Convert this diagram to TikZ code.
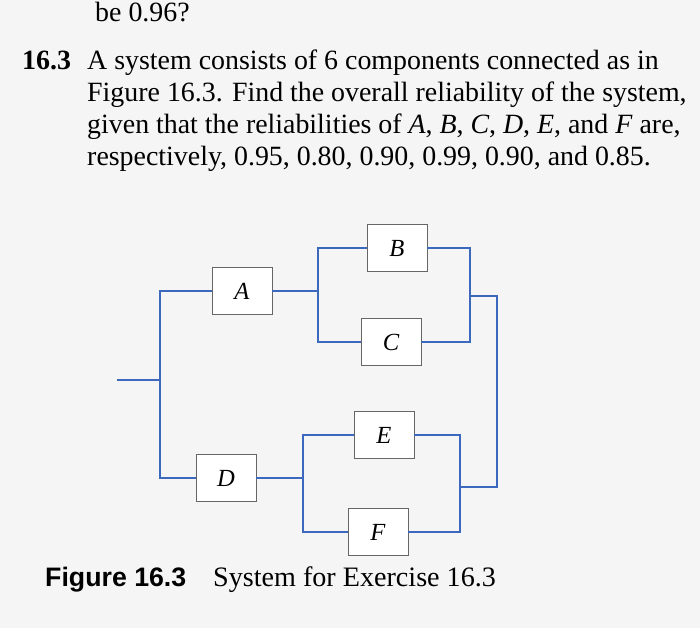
\documentclass[tikz,border=0pt]{standalone}
\usepackage{fontspec}
\setmainfont{Liberation Serif}
\newfontfamily\figsans{Liberation Sans}
\definecolor{wireblue}{RGB}{60,105,190}
\begin{document}
\begin{tikzpicture}[x=0.03cm,y=-0.03cm,
  comp/.style={draw=black!60,fill=white,line width=0.8pt,minimum width=1.8cm,minimum height=1.4cm,font=\fontsize{21}{24}\selectfont\itshape},
  wire/.style={draw=wireblue,line width=2pt},
  txt/.style={anchor=base west,inner sep=0,font=\fontsize{23.8}{27}\selectfont}]
\useasboundingbox[fill=black!4] (0,0) rectangle (700,628);
\node[txt] (t0) at (95,22) {be 0.96?};
\node[txt,font=\fontsize{23.8}{27}\selectfont\bfseries] (t1) at (22,70) {16.3};
\node[txt] (t2) at (87,70) {A system consists of 6 components connected as in};
\node[txt] (t3) at (87,102) {Figure 16.3. Find the overall reliability of the system,};
\node[txt] (t4) at (87,134) {given that the reliabilities of \textit{A}, \textit{B}, \textit{C}, \textit{D}, \textit{E}, and \textit{F} are,};
\node[txt] (t5) at (87,166) {respectively, 0.95, 0.80, 0.90, 0.99, 0.90, and 0.85.};
\node[comp] (A) at (242,291) {A};
\node[comp] (B) at (397,248) {B};
\node[comp] (C) at (391,342) {C};
\node[comp] (D) at (226,478) {D};
\node[comp] (E) at (384,435) {E};
\node[comp] (F) at (378,532) {F};
\coordinate (in) at (117,380);
\coordinate (jl) at (160,380);
\coordinate (j1) at (318,291);
\coordinate (j2) at (470,296);
\coordinate (j3) at (303,478);
\coordinate (j4) at (460,487);
\coordinate (ro) at (497,296);
\draw[wire] (in) -- (jl);
\draw[wire] (A.west) -| (jl) |- (D.west);
\draw[wire] (A.east) -- (j1);
\draw[wire] (B.west) -| (j1) |- (C.west);
\draw[wire] (B.east) -| (j2) |- (C.east);
\draw[wire] (j2) -- (ro) |- (j4);
\draw[wire] (D.east) -- (j3);
\draw[wire] (E.west) -| (j3) |- (F.west);
\draw[wire] (E.east) -| (j4) |- (F.east);
\node[anchor=base west,inner sep=0,font=\figsans\bfseries\fontsize{22.8}{26}\selectfont] (cap1) at (45,586) {Figure 16.3};
\node[anchor=base west,inner sep=0,font=\fontsize{24}{27}\selectfont] (cap2) at (213,586) {System for Exercise 16.3};
\end{tikzpicture}
\end{document}
